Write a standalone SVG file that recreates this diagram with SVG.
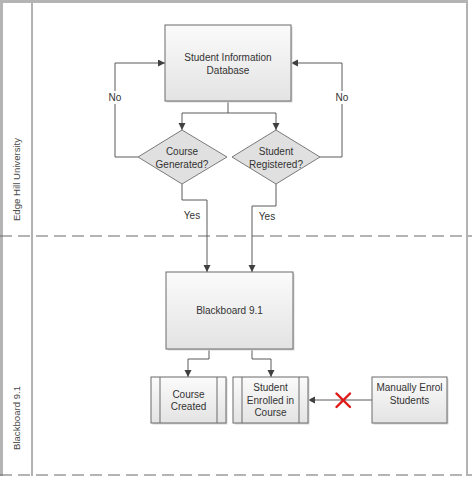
<svg xmlns="http://www.w3.org/2000/svg" width="474" height="480" viewBox="0 0 474 480">
<style>
.box{stroke:#6b6b6b;stroke-width:1;fill:url(#g)}
.shd{fill:#d6d6d6}
.dia{stroke:#7a7a7a;stroke-width:1;fill:#e0e0e0}
.con{fill:none;stroke:#5a5a5a;stroke-width:1}
.arr{marker-end:url(#ah)}
.t{font-family:"Liberation Sans",Arial,sans-serif;font-size:10px;fill:#333333;text-anchor:middle}
.lane{font-family:"Liberation Sans",Arial,sans-serif;font-size:9.6px;fill:#4a4a4a;text-anchor:middle}
.dash{stroke:#6a6a6a;stroke-width:1.2;stroke-dasharray:12 6;fill:none}
.frm{stroke:#666;stroke-width:1;fill:none}
.inner{stroke:#6b6b6b;stroke-width:1}
</style>
<defs>
<linearGradient id="g" x1="0" y1="0" x2="0" y2="1">
<stop offset="0" stop-color="#fbfbfb"/>
<stop offset="1" stop-color="#e3e3e3"/>
</linearGradient>
<marker id="ah" markerUnits="userSpaceOnUse" markerWidth="8" markerHeight="8" refX="7" refY="3.5" orient="auto">
<path d="M0,0 L7,3.5 L0,7 z" fill="#404040"/>
</marker>
</defs>
<rect width="474" height="480" fill="#ffffff"/>
<g id="frame">
<line x1="0" y1="1.5" x2="468" y2="1.5" stroke="#b4b4b4" stroke-width="3"/>
<line x1="1.5" y1="0" x2="1.5" y2="476" stroke="#b4b4b4" stroke-width="3"/>
<line class="frm" x1="32" y1="3" x2="32" y2="476"/>
<line class="frm" x1="467" y1="3" x2="467" y2="476"/>
<line class="dash" x1="0" y1="236" x2="472" y2="236"/>
<line class="dash" x1="0" y1="475" x2="472" y2="475"/>
</g>
<g id="lanes">
<text class="lane" transform="translate(19.5,179.5) rotate(-90)">Edge Hill University</text>
<text class="lane" transform="translate(19.5,418) rotate(-90)">Blackboard 9.1</text>
</g>
<g id="connectors">
<path class="con arr" d="M228,101 V113 H182 V130"/>
<path class="con arr" d="M228,113 H276 V130"/>
<path class="con arr" d="M138,157 H115 V63 H165"/>
<path class="con arr" d="M320,157 H342 V63 H291"/>
<path class="con arr" d="M182,184 V200 H207 V272"/>
<path class="con arr" d="M276,184 V206 H252 V272"/>
<path class="con arr" d="M209,349 V359 H188 V377"/>
<path class="con arr" d="M252,349 V359 H271 V377"/>
<path class="con arr" d="M372,400 H308"/>
<rect x="106" y="91" width="18" height="13" fill="#fff"/>
<text class="t" x="115" y="100.5">No</text>
<rect x="333" y="91" width="18" height="13" fill="#fff"/>
<text class="t" x="342" y="100.5">No</text>
<text class="t" x="192" y="218.5">Yes</text>
<text class="t" x="267" y="220">Yes</text>
<g id="cross" stroke="#e01818" stroke-width="2.4" stroke-linecap="round">
<line x1="336.5" y1="393.5" x2="350" y2="407"/>
<line x1="350" y1="393.5" x2="336.5" y2="407"/>
</g>
</g>
<g id="sid">
<rect class="shd" x="166.5" y="26.5" width="126" height="76"/>
<rect class="box" x="165" y="25" width="126" height="76"/>
<text class="t" x="228" y="60.5">Student Information</text>
<text class="t" x="228" y="73.5">Database</text>
</g>
<g id="course-generated">
<polygon class="dia" points="182,130 227,157 182,184 138,157"/>
<text class="t" x="182" y="154.5">Course</text>
<text class="t" x="182" y="167.5">Generated?</text>
</g>
<g id="student-registered">
<polygon class="dia" points="276,130 320,157 276,184 232,157"/>
<text class="t" x="276" y="154.5">Student</text>
<text class="t" x="276" y="167.5">Registered?</text>
</g>
<g id="blackboard">
<rect class="shd" x="167.5" y="273.5" width="127" height="77"/>
<rect class="box" x="166" y="272" width="127" height="77"/>
<text class="t" x="229.5" y="313.5">Blackboard 9.1</text>
</g>
<g id="course-created">
<rect class="shd" x="152.5" y="378.5" width="75" height="46"/>
<rect class="box" x="151" y="377" width="75" height="46"/>
<line class="inner" x1="160" y1="377" x2="160" y2="423"/>
<line class="inner" x1="217" y1="377" x2="217" y2="423"/>
<text class="t" x="188.5" y="397.8">Course</text>
<text class="t" x="188.5" y="410.4">Created</text>
</g>
<g id="student-enrolled">
<rect class="shd" x="234.5" y="378.5" width="75" height="46"/>
<rect class="box" x="233" y="377" width="75" height="46"/>
<line class="inner" x1="242" y1="377" x2="242" y2="423"/>
<line class="inner" x1="299" y1="377" x2="299" y2="423"/>
<text class="t" x="270.5" y="391">Student</text>
<text class="t" x="270.5" y="403.5">Enrolled in</text>
<text class="t" x="270.5" y="416.2">Course</text>
</g>
<g id="manual-enrol">
<rect class="shd" x="373.5" y="378.5" width="75" height="46"/>
<rect class="box" x="372" y="377" width="75" height="46"/>
<text class="t" x="409.5" y="391">Manually Enrol</text>
<text class="t" x="409.5" y="403.5">Students</text>
</g>
</svg>
